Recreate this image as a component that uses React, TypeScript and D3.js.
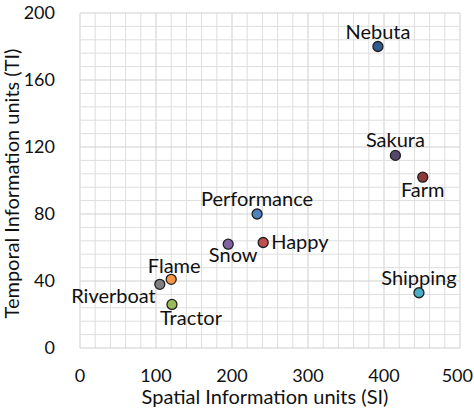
import React from "react";
import * as d3 from "d3";

const names = ["Nebuta", "Sakura", "Farm", "Performance", "Happy", "Snow", "Shipping", "Flame", "Riverboat", "Tractor"];
const siValues = [392, 415, 451, 233, 241, 195, 446, 120, 105, 121];
const tiValues = [180, 115, 102, 80, 63, 62, 33, 41, 38, 26];
const colors = ["#2f5b8f", "#55486b", "#8e3a38", "#4f81bd", "#c0504d", "#8064a2", "#4bacc6", "#f79646", "#7f7f7f", "#9bbb59"];
const labelSides = ["above", "above", "below", "above", "right", "belowLeft", "above", "aboveRight", "left", "belowRight"];
const xTicks = [0, 100, 200, 300, 400, 500];
const yTicks = [0, 40, 80, 120, 160, 200];

const W = 474;
const H = 408;
const M = { left: 80, right: 14, top: 13, bottom: 60 };

export default function App() {
  const x = d3.scaleLinear().domain([0, 500]).range([M.left, W - M.right]);
  const y = d3.scaleLinear().domain([0, 200]).range([H - M.bottom, M.top]);
  const font = "Lato, 'Open Sans', sans-serif";
  const xMinor = d3.range(0, 501, 20);
  const yMinor = d3.range(0, 201, 8);

  const labelAttrs = (side: string, px: number, py: number) => {
    switch (side) {
      case "above":
        return { x: px, y: py - 8, anchor: "middle" };
      case "aboveRight":
        return { x: px + 3, y: py - 6, anchor: "middle" };
      case "below":
        return { x: px, y: py + 20, anchor: "middle" };
      case "right":
        return { x: px + 8, y: py + 7, anchor: "start" };
      case "left":
        return { x: px - 4, y: py + 19, anchor: "end" };
      case "belowLeft":
        return { x: px + 5, y: py + 18, anchor: "middle" };
      case "belowRight":
        return { x: px + 19, y: py + 21, anchor: "middle" };
      default:
        return { x: px, y: py, anchor: "middle" };
    }
  };

  return (
    <svg width={W} height={H} style={{ position: "absolute", left: 0, top: 0, background: "#fff" }}>
      <rect width={W} height={H} fill="#fff" />
      {xMinor.map((v) => (
        <line key={"gx" + v} x1={x(v)} x2={x(v)} y1={y(0)} y2={y(200)} stroke={v % 100 === 0 ? "#cfcfcf" : "#dedede"} strokeWidth={1} />
      ))}
      {yMinor.map((v) => (
        <line key={"gy" + v} y1={y(v)} y2={y(v)} x1={x(0)} x2={x(500)} stroke={v % 40 === 0 ? "#cfcfcf" : "#dedede"} strokeWidth={1} />
      ))}
      {xTicks.map((v, i) => (
        <text
          key={"tx" + v}
          x={i === xTicks.length - 1 ? W - 1 : x(v)}
          y={y(0) + 34}
          textAnchor={i === xTicks.length - 1 ? "end" : "middle"}
          fontFamily={font}
          fontSize={18}
          fill="#111"
        >
          {v}
        </text>
      ))}
      {yTicks.map((v) => (
        <text key={"ty" + v} x={x(0) - 25} y={y(v) + 6} textAnchor="end" fontFamily={font} fontSize={18} fill="#111">
          {v}
        </text>
      ))}
      <text x={265} y={H - 4} textAnchor="middle" fontFamily={font} fontSize={20} fill="#111">
        Spatial Information units (SI)
      </text>
      <text
        transform={`translate(19, ${(y(0) + y(200)) / 2 + 3}) rotate(-90)`}
        textAnchor="middle"
        fontFamily={font}
        fontSize={20}
        fill="#111"
      >
        Temporal Information units (TI)
      </text>
      {names.map((n, i) => {
        const px = x(siValues[i]);
        const py = y(tiValues[i]);
        const l = labelAttrs(labelSides[i], px, py);
        return (
          <g key={n}>
            <circle cx={px} cy={py} r={5} fill={colors[i]} stroke="#1f1f1f" strokeWidth={1.3} />
            <text x={l.x} y={l.y} textAnchor={l.anchor as any} fontFamily={font} fontSize={20} fill="#111">
              {n}
            </text>
          </g>
        );
      })}
    </svg>
  );
}
